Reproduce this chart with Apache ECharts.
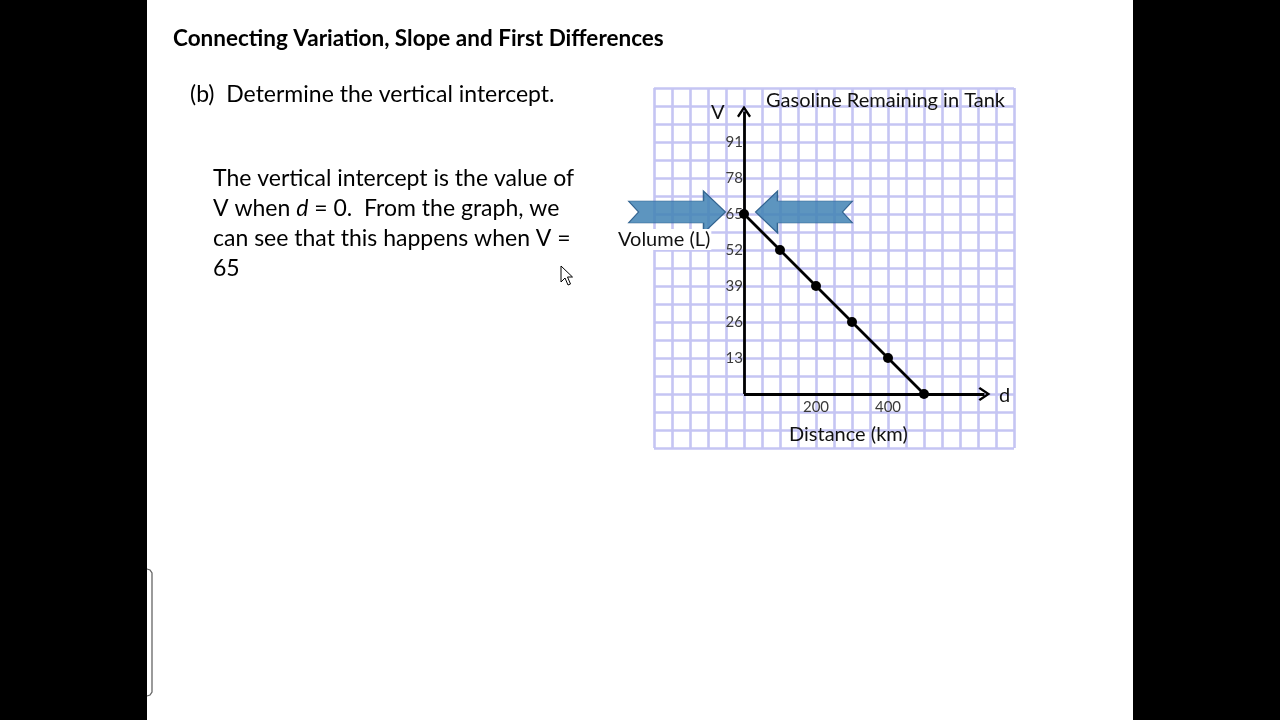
<!DOCTYPE html>
<html>
<head>
<meta charset="utf-8">
<script src="https://cdn.jsdelivr.net/npm/echarts@6/dist/echarts.min.js"></script>
<style>
  html, body { margin: 0; padding: 0; background: #000; }
  #slide { position: absolute; left: 147px; top: 0; width: 986px; height: 720px; background: #fff; }
  #chart { position: absolute; left: 0; top: 0; width: 1280px; height: 720px; }
</style>
</head>
<body>
<div id="slide"></div>
<div id="chart"></div>
<script>
// ---- data ----
const distance = [0, 100, 200, 300, 400, 500];      // d (km)
const volume = [65, 52, 39, 26, 13, 0];              // V (L)
const xTickLabels = [200, 400];
const yTickLabels = [13, 26, 39, 52, 65, 78, 91];
const chartTitle = 'Gasoline Remaining in Tank';
const xName = 'Distance (km)';
const yName = 'Volume (L)';
const slideTitle = 'Connecting Variation, Slope and First Differences';
const partText = '(b)  Determine the vertical intercept.';

const FONT = 'Lato, "Open Sans", sans-serif';
const gridColor = '#c5c5f3';

const chart = echarts.init(document.getElementById('chart'), null, { renderer: 'canvas' });

const chevron = 'path://M6,0 L12,8.6 L10.4,9.9 L6,3.4 L1.6,9.9 L0,8.6 Z';
const arrowRight = 'path://M0,10 L75,10 L75,0 L97,21 L75,42 L75,32 L0,32 L10,21 Z';
const arrowLeft = 'path://M97,10 L22,10 L22,0 L0,21 L22,42 L22,32 L97,32 L87,21 Z';

function near(v, list) {
  for (const t of list) if (Math.abs(v - t) < 0.01) return t;
  return null;
}

const option = {
  backgroundColor: 'transparent',
  animation: false,
  grid: { left: 654, top: 88, width: 360, height: 360, show: false },
  xAxis: {
    type: 'value', min: -250, max: 750, interval: 50,
    position: 'bottom', offset: -54,
    axisLine: { show: false, onZero: false },
    axisTick: { show: false },
    splitLine: { show: true, lineStyle: { color: gridColor, width: 2.6 } },
    axisLabel: {
      color: '#3a3a3a', fontSize: 15, fontFamily: FONT, margin: 6,
      formatter: v => { const t = near(v, xTickLabels); return t === null ? '' : String(t); }
    }
  },
  yAxis: {
    type: 'value', min: -19.5, max: 110.5, interval: 6.5,
    position: 'left', offset: -90,
    axisLine: { show: false, onZero: false },
    axisTick: { show: false },
    splitLine: { show: true, lineStyle: { color: gridColor, width: 2.6 } },
    axisLabel: {
      color: '#3a3a3a', fontSize: 15, fontFamily: FONT, margin: 1,
      formatter: v => { const t = near(v, yTickLabels); return t === null ? '' : String(t); }
    }
  },
  series: [
    {
      type: 'line',
      name: 'axes',
      data: [],
      silent: true,
      markLine: {
        silent: true,
        symbol: ['none', chevron],
        symbolSize: [14, 12],
        label: { show: false },
        lineStyle: { color: '#000', width: 2.8, type: 'solid' },
        data: [
          [{ coord: [0, 0] }, { coord: [0, 102] }],
          [{ coord: [0, 0] }, { coord: [668, 0] }]
        ],
        z: 3
      }
    },
    {
      type: 'line',
      name: 'Volume',
      data: distance.map((d, i) => [d, volume[i]]),
      lineStyle: { color: '#000', width: 2.8 },
      itemStyle: { color: '#000' },
      symbol: 'circle',
      symbolSize: 10,
      z: 5,
      markPoint: {
        silent: true,
        label: { show: false },
        itemStyle: { color: 'rgba(66,132,180,0.86)', borderColor: 'rgba(45,95,140,0.95)', borderWidth: 1 },
        data: [
          { coord: [distance[0], volume[0]], symbol: arrowRight, symbolSize: [97, 42], symbolOffset: [-67, -2] },
          { coord: [distance[0], volume[0]], symbol: arrowLeft, symbolSize: [97, 42], symbolOffset: [60, -2] }
        ]
      }
    }
  ],
  graphic: [
    { type: 'text', left: 173, top: 27, style: { text: slideTitle, font: 'bold 22.5px ' + FONT, fill: '#000' } },
    { type: 'text', left: 190, top: 83, style: { text: partText, font: '23px ' + FONT, fill: '#000' } },
    {
      type: 'text', left: 213, top: 164,
      style: {
        text: 'The vertical intercept is the value of\nV when {i|d} = 0.  From the graph, we\ncan see that this happens when V =\n65',
        font: '23px ' + FONT, fill: '#000', lineHeight: 30,
        rich: { i: { fontStyle: 'italic', fontSize: 23, fontFamily: FONT, fill: '#000' } }
      }
    },
    { type: 'text', left: 766, top: 91, z: 10, style: { text: chartTitle, font: '20px ' + FONT, fill: '#111' } },
    { type: 'text', left: 711, top: 103, z: 10, style: { text: 'V', font: '20px ' + FONT, fill: '#111' } },
    { type: 'text', left: 999, top: 386, z: 10, style: { text: 'd', font: '20px ' + FONT, fill: '#111' } },
    { type: 'text', left: 789, top: 425, z: 10, style: { text: xName, font: '20px ' + FONT, fill: '#111' } },
    { type: 'text', left: 617, top: 229, z: 10, style: { text: yName, font: '20px ' + FONT, fill: '#111', backgroundColor: '#fff', padding: [1, 1, 0, 1] } },
    {
      type: 'polyline', z: 10,
      shape: { points: [[147, 569], [150, 570], [152, 573], [152, 692], [150, 695], [147, 696]] },
      style: { stroke: '#666', lineWidth: 1.3, fill: null }
    },
    {
      type: 'polygon', z: 20,
      shape: { points: [[561, 266], [561, 282], [565, 278], [568, 285], [570.5, 284], [567.5, 277], [572.5, 277]] },
      style: { fill: '#fff', stroke: '#000', lineWidth: 1 }
    }
  ]
};
chart.setOption(option);
</script>
</body>
</html>
